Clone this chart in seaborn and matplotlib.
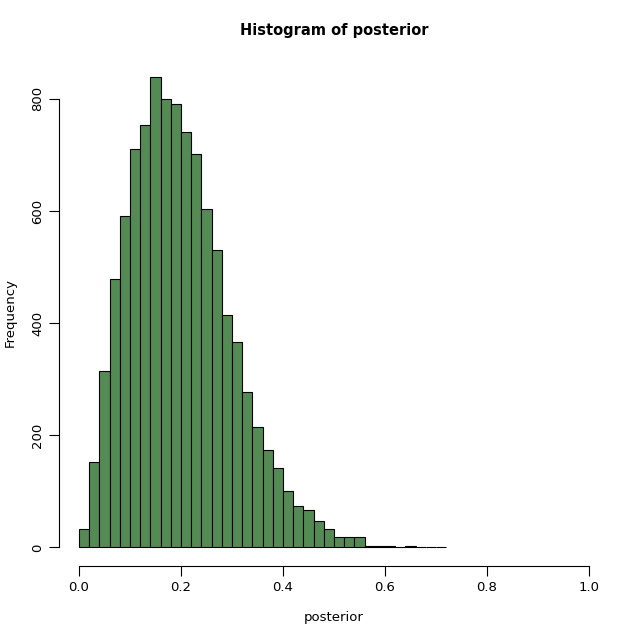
import pandas as pd
import seaborn as sns
import matplotlib
matplotlib.use("Agg")
import matplotlib.pyplot as plt

# bin edges of width 0.02 starting at 0, counts
bin_width = 0.02
counts = [33, 152, 315, 479, 592, 710, 753, 839, 800, 791, 741, 701,
          604, 530, 415, 366, 277, 215, 174, 142, 100, 74, 67, 47,
          33, 18, 18, 18, 3, 3, 2, 1, 2, 0, 1, 1]
x_ticks = [0.0, 0.2, 0.4, 0.6, 0.8, 1.0]
y_ticks = [0, 200, 400, 600, 800]

edges = [round(i * bin_width, 2) for i in range(len(counts) + 1)]
df = pd.DataFrame({"posterior": [e + bin_width / 2 for e in edges[:-1]], "n": counts})

sns.set_style("ticks", {"text.color": "black", "axes.labelcolor": "black",
                        "xtick.color": "black", "ytick.color": "black",
                        "axes.edgecolor": "black"})
plt.rcParams["font.family"] = ["DejaVu Sans"]

fig = plt.figure(figsize=(6.4, 6.4), dpi=100)
ax = fig.add_axes([0.0916, 0.1152, 0.8604, 0.7938])

sns.histplot(data=df, x="posterior", weights="n", bins=edges, ax=ax,
             color="#548B54", edgecolor="black", linewidth=0.8, alpha=1)

ax.set_xlim(-0.04, 1.04)
ax.set_ylim(-0.04 * max(counts), 1.04 * max(counts))
ax.set_xticks(x_ticks)
ax.set_xticklabels([f"{t:.1f}" for t in x_ticks])
ax.set_yticks(y_ticks)
ax.set_yticklabels([str(t) for t in y_ticks], rotation=90, va="center")
ax.spines["top"].set_visible(False)
ax.spines["right"].set_visible(False)
ax.spines["left"].set_bounds(0, 800)
ax.spines["bottom"].set_bounds(0, 1)
ax.tick_params(length=7, width=0.8, labelsize=9.5)

ax.set_xlabel("posterior", fontsize=9.5, labelpad=12)
ax.set_ylabel("Frequency", fontsize=9.5, labelpad=10)
fig.text(0.523, 1 - 30 / 640, "Histogram of posterior", fontsize=10.5,
         fontweight="bold", ha="center", va="center")

fig.savefig("out.png", dpi=100)
